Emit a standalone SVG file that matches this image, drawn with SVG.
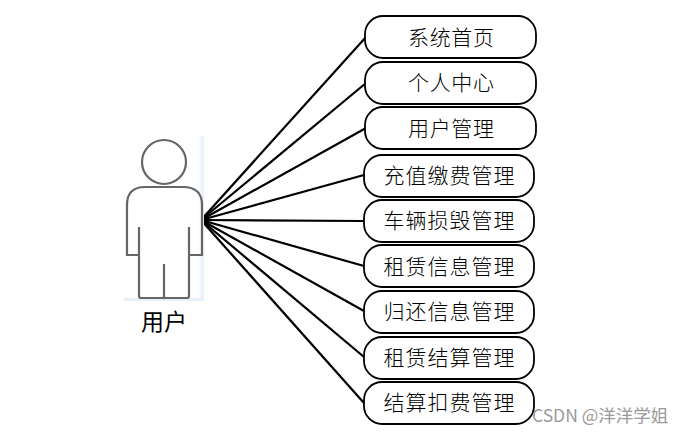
<svg xmlns="http://www.w3.org/2000/svg" width="684" height="434" viewBox="0 0 684 434">
<defs>
<style>
.box{fill:#fff;stroke:#000;stroke-width:1.8}
.t{font-family:"Noto Sans CJK SC","Noto Sans CJK JP",sans-serif;font-size:21px;font-weight:300;fill:#000;text-anchor:middle}
.c line{stroke:#000;stroke-width:2.2}
.p{fill:none;stroke:#666;stroke-width:2.2}
</style>
<linearGradient id="glow" x1="0" x2="1" y1="0" y2="0"><stop offset="0" stop-color="#fff"/><stop offset="0.92" stop-color="#fff"/><stop offset="1" stop-color="#e6effa"/></linearGradient>
</defs>
<rect width="684" height="434" fill="#fff"/>
<g id="connectors" class="c">
<line x1="201" y1="220" x2="366" y2="37"/>
<line x1="201" y1="220" x2="366" y2="83"/>
<line x1="201" y1="220" x2="366" y2="128"/>
<line x1="201" y1="220" x2="364" y2="175"/>
<line x1="201" y1="220" x2="364" y2="221"/>
<line x1="201" y1="220" x2="364" y2="266"/>
<line x1="201" y1="220" x2="364" y2="311"/>
<line x1="201" y1="220" x2="364" y2="357"/>
<line x1="201" y1="220" x2="364" y2="403"/>
</g>
<g id="user">
<rect x="124" y="136" width="80" height="164" fill="url(#glow)"/>
<rect x="124" y="298" width="80" height="3" fill="#e6effa"/>
<circle cx="164" cy="162" r="22" class="p"/>
<path class="p" d="M139 255H127V205Q127 187 145 187H183Q202 187 202 205V255H189M139 227V296Q139 298 141 298H187Q189 298 189 296V227M164 264V298"/>
<text x="164" y="330" class="t" style="font-size:23px;font-weight:400">用户</text>
</g>
<g id="n1"><rect class="box" x="365" y="16" width="171" height="42" rx="18"/><text class="t" x="451" y="45" textLength="86">系统首页</text></g>
<g id="n2"><rect class="box" x="365" y="62" width="171" height="42" rx="18"/><text class="t" x="451" y="90" textLength="86">个人中心</text></g>
<g id="n3"><rect class="box" x="365" y="107" width="171" height="42" rx="18"/><text class="t" x="451" y="136" textLength="86">用户管理</text></g>
<g id="n4"><rect class="box" x="364" y="155" width="170" height="42" rx="18"/><text class="t" x="449" y="183" textLength="131">充值缴费管理</text></g>
<g id="n5"><rect class="box" x="364" y="200" width="170" height="42" rx="18"/><text class="t" x="449" y="228" textLength="131">车辆损毁管理</text></g>
<g id="n6"><rect class="box" x="364" y="245" width="170" height="42" rx="18"/><text class="t" x="449" y="274" textLength="131">租赁信息管理</text></g>
<g id="n7"><rect class="box" x="364" y="291" width="170" height="42" rx="18"/><text class="t" x="449" y="319" textLength="131">归还信息管理</text></g>
<g id="n8"><rect class="box" x="364" y="337" width="170" height="42" rx="18"/><text class="t" x="449" y="365" textLength="131">租赁结算管理</text></g>
<g id="n9"><rect class="box" x="364" y="382" width="170" height="42" rx="18"/><text class="t" x="449" y="410" textLength="131">结算扣费管理</text></g>
<text x="532" y="422" font-family="'Noto Sans CJK SC',sans-serif" font-size="17.5" fill="#9a9a9a">CSDN @洋洋学姐</text>
</svg>
